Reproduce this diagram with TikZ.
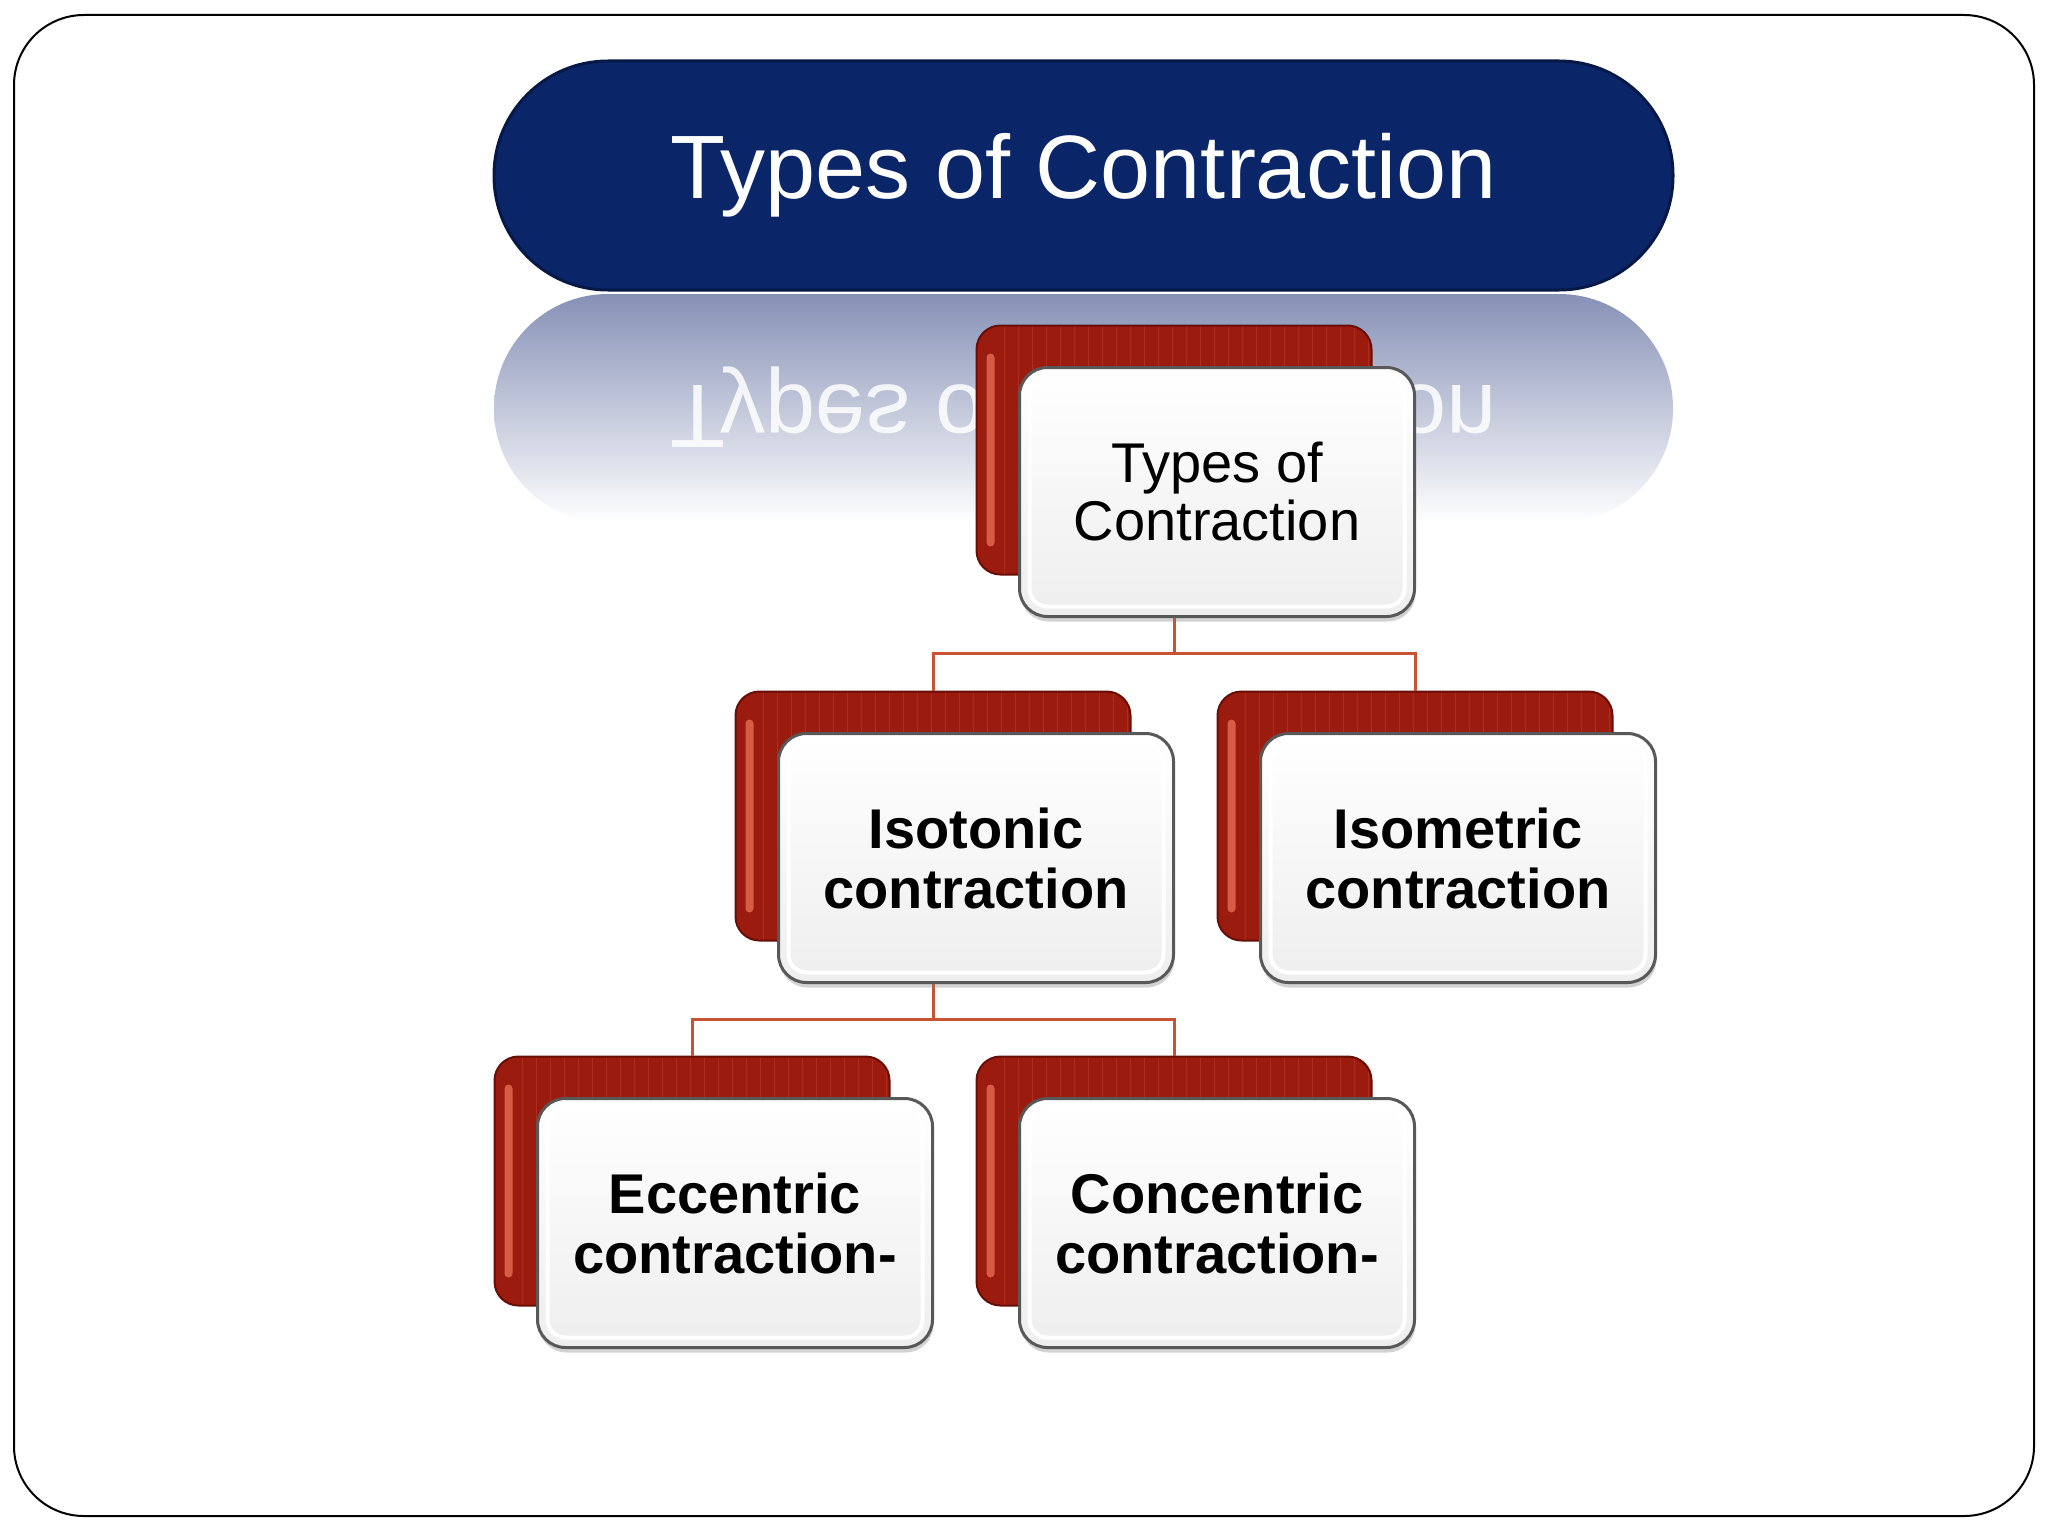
\documentclass[tikz,border=0pt]{standalone}
\usepackage{fontspec}
\setmainfont{Liberation Sans}
\usetikzlibrary{shadows, positioning, calc}
\definecolor{navy}{RGB}{10,38,104}
\definecolor{navyline}{RGB}{6,24,70}
\definecolor{refl}{RGB}{134,145,182}
\definecolor{redbase}{RGB}{155,28,15}
\definecolor{redline}{RGB}{105,14,6}
\definecolor{redstripe}{RGB}{172,44,30}
\definecolor{redlight}{RGB}{215,92,70}
\definecolor{boxline}{RGB}{88,88,88}
\definecolor{boxfill}{RGB}{238,238,238}
\definecolor{linkred}{RGB}{200,82,52}

\begin{document}
\begin{tikzpicture}[x=0.5pt, y=-0.5pt,
                pill/.style={fill=navy, draw=navyline, line width=1.5pt, rounded corners=57pt, minimum width=589.5pt, minimum height=114.5pt, text=white, font=\fontsize{45}{54}\selectfont},
                backbox/.style={draw=redline, line width=1pt, fill=redbase, rounded corners=12pt, minimum width=197.5pt, minimum height=124.5pt,
                    path picture={\foreach \s in {2,...,28} \draw[redstripe, line width=0.8pt] ([xshift=\s*7pt]path picture bounding box.south west) -- ([xshift=\s*7pt]path picture bounding box.north west);
                        \fill[redlight, rounded corners=2pt] ([xshift=5pt, yshift=14pt]path picture bounding box.south west) rectangle ([xshift=9pt, yshift=-14pt]path picture bounding box.north west);}},
                frontbox/.style={draw=boxline, line width=1.5pt, top color=white, bottom color=boxfill, rounded corners=14pt, minimum width=197.5pt, minimum height=124.5pt, align=center,
                    font=\fontsize{28}{29}\selectfont, drop shadow={shadow xshift=0.5pt, shadow yshift=-2.5pt, opacity=0.35},
                    path picture={\draw[white, line width=2pt, rounded corners=9pt] ([shift={(5pt,5pt)}]path picture bounding box.south west) rectangle ([shift={(-5pt,-5pt)}]path picture bounding box.north east);}},
                childbox/.style={frontbox, font=\fontsize{28}{30}\selectfont\bfseries},
                link/.style={draw=linkred, line width=1.5pt}]
                \useasboundingbox[fill=white] (0,0) rectangle (2048,1536);
                \draw[line width=1pt, rounded corners=35pt] (14,15) rectangle (2034,1516);
                \node[pill] (title) at (1083.5,175.5) {Types of Contraction};
                \shade[top color=refl, bottom color=white, rounded corners=57pt] (494,294) rectangle (1673,523);
                \node[yscale=-1, text=white, opacity=0.85, font=\fontsize{45}{54}\selectfont] (mirror) at (1083.5,408.5) {Types of Contraction};
                \node[backbox] (rootb) at (1174,450) {};
                \node[backbox] (isotb) at (933,816) {};
                \node[backbox] (isomb) at (1415,816) {};
                \node[backbox] (eccb) at (692,1181) {};
                \node[backbox] (concb) at (1174,1181) {};
                \coordinate (j1) at (1174,653);
                \coordinate (j2) at (933,1019);
                \draw[link] (rootb.south) -- (j1) -| (isotb.north);
                \draw[link] (j1) -| (isomb.north);
                \draw[link] (isotb.south) -- (j2) -| (eccb.north);
                \draw[link] (j2) -| (concb.north);
                \node[frontbox] (root) at (1217,492) {Types of\\Contraction};
                \node[childbox] (isot) at (976,858) {Isotonic\\contraction};
                \node[childbox] (isom) at (1458,858) {Isometric\\contraction};
                \node[childbox] (ecc) at (735,1223) {Eccentric\\contraction-};
                \node[childbox] (conc) at (1217,1223) {Concentric\\contraction-};
            \end{tikzpicture}
\end{document}
